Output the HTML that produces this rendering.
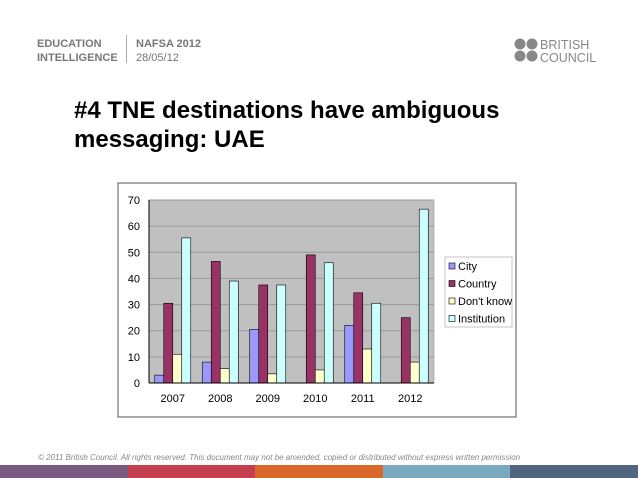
<!DOCTYPE html>
<html><head><meta charset="utf-8"><style>
body{margin:0;width:638px;height:478px;background:#fff;position:relative;overflow:hidden;font-family:"Liberation Sans",sans-serif}
.a{position:absolute}
</style></head><body>
<div class="a" style="left:37px;top:37px;font-size:11px;font-weight:bold;color:#777;line-height:14px">EDUCATION<br>INTELLIGENCE</div>
<div class="a" style="left:126px;top:35px;width:1px;height:28px;background:#aaa"></div>
<div class="a" style="left:136px;top:37px;font-size:11px;color:#777;line-height:14px"><b>NAFSA 2012</b><br>28/05/12</div>
<div class="a" style="left:514px;top:38px;width:90px;height:26px">
<svg width="90" height="26"><g fill="#888"><circle cx="6" cy="6" r="5.5"/><circle cx="18" cy="6" r="5.5"/><circle cx="6" cy="18" r="5.5"/><circle cx="18" cy="18" r="5.5"/></g>
<text x="26" y="11" font-size="12.5" fill="#888" font-family="Liberation Sans">BRITISH</text><text x="26" y="24" font-size="12.5" fill="#888" font-family="Liberation Sans">COUNCIL</text></svg></div>
<div class="a" style="left:74px;top:96px;font-size:24px;font-weight:bold;color:#000;line-height:29px">#4 TNE destinations have ambiguous<br>messaging: UAE</div>
<svg class="a" style="left:0;top:0" width="638" height="478" id="chart">
<rect x="118" y="183" width="398" height="234" fill="#fff" stroke="#555" stroke-width="1"/>
<rect x="149" y="200" width="285" height="183" fill="#c0c0c0" stroke="#888" stroke-width="0.5"/>
<g id="grid"></g><g id="bars"></g><g id="axes"></g>
<rect x="445" y="257" width="67" height="70" fill="#fff" stroke="#888" stroke-width="0.5"/>
<g id="legend"></g>
</svg>
<div class="a" style="left:38px;top:453px;font-size:8px;font-style:italic;color:#888">© 2011 British Council. All rights reserved. This document may not be amended, copied or distributed without express written permission</div>
<div class="a" style="left:0;top:465px;width:638px;height:13px;display:flex">
<div style="flex:1;background:#7a5a80"></div><div style="flex:1;background:#c4404e"></div><div style="flex:1;background:#d9672b"></div><div style="flex:1;background:#7aa9bf"></div><div style="flex:1;background:#516583"></div></div>
<script>
const categories=["2007","2008","2009","2010","2011","2012"];
const seriesNames=["City","Country","Don't know","Institution"];
const city=[3,8,20.5,0,22,0];
const country=[30.5,46.5,37.5,49,34.5,25];
const dontKnow=[11,5.5,3.5,5,13,8];
const institution=[55.5,39,37.5,46,30.5,66.5];
const yTicks=[0,10,20,30,40,50,60,70];
const series=[city,country,dontKnow,institution];
const colors=["#9999ff","#993366","#ffffcc","#ccffff"];
const NS="http://www.w3.org/2000/svg";
const x0=149,x1=434,yTop=200,yBot=383,ymax=70;
const y=v=>yBot-(v/ymax)*(yBot-yTop);
const gw=(x1-x0)/categories.length,bw=9;
const xb=(i,s)=>x0+i*gw+(gw-4*bw)/2+s*bw;
function mk(t,a,p){const e=document.createElementNS(NS,t);for(const k in a)e.setAttribute(k,a[k]);p.appendChild(e);return e;}
const grid=document.getElementById('grid'),bars=document.getElementById('bars'),axes=document.getElementById('axes'),leg=document.getElementById('legend');
yTicks.forEach(t=>{
 if(t>0){const l=mk('line',{x1:x0,x2:x1,y1:y(t),y2:y(t),stroke:'#999','stroke-width':1},grid);
 
 }
 const tx=mk('text',{x:140,y:y(t)+4,'text-anchor':'end','font-size':11,fill:'#000'},axes);tx.textContent=t;
 
 
});
categories.forEach((c,i)=>{
 series.forEach((s,j)=>{
  if(s[i]<=0)return;
  const r=mk('rect',{x:xb(i,j),y:y(s[i]),width:bw,height:yBot-y(s[i]),fill:colors[j],stroke:'#000','stroke-width':0.6},bars);
  
  
 });
 const tx=mk('text',{x:x0+i*gw+gw/2,y:402,'text-anchor':'middle','font-size':11,fill:'#000'},axes);tx.textContent=c;
 
 
});
mk('line',{x1:x0,x2:x1,y1:yBot,y2:yBot,stroke:'#000','stroke-width':1},axes);
mk('line',{x1:x0,x2:x0,y1:yTop,y2:yBot,stroke:'#000','stroke-width':1},axes);
seriesNames.forEach((n,j)=>{
 const yy=266+j*17.5;
 const r=mk('rect',{x:449,y:yy-3,width:6,height:6,fill:colors[j],stroke:'#000','stroke-width':0.6},leg);
 
 
 const t=mk('text',{x:458,y:yy+4,'font-size':11,fill:'#000'},leg);t.textContent=n;
 
 
});
</script>
</body></html>
